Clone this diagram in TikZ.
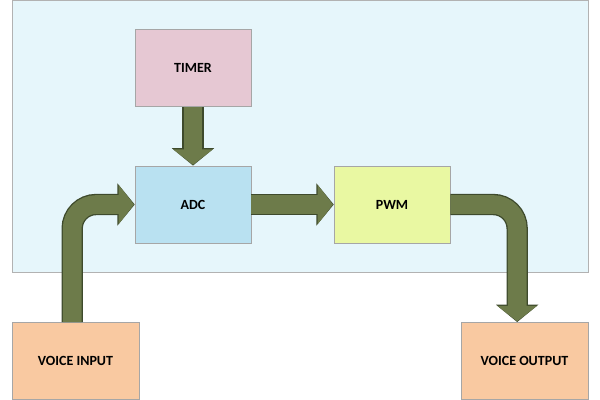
\documentclass[tikz,border=0pt]{standalone}
\usepackage{fontspec}
\setmainfont{Carlito}
\usetikzlibrary{arrows.meta, positioning}
\definecolor{panel}{HTML}{E6F6FB}
\definecolor{timerc}{HTML}{E6C8D3}
\definecolor{adcc}{HTML}{B9E1F1}
\definecolor{pwmc}{HTML}{E9F8A2}
\definecolor{voicec}{HTML}{F9C9A1}
\definecolor{flow}{HTML}{6D7B4A}
\definecolor{flowedge}{HTML}{3E4A2C}
\tikzset{
	block/.style={draw=gray!70, minimum width=87pt, minimum height=58pt, inner sep=0pt,
		font=\fontsize{10.5}{12}\selectfont\bfseries},
	edge/.style={line width=16pt, draw=flowedge, rounded corners=18pt,
		-{Triangle[length=13pt, width=31pt]}},
	core/.style={line width=14pt, draw=flow, rounded corners=18pt,
		-{Triangle[length=11.5pt, width=29pt]}, shorten >=0.6pt}
}
\begin{document}
\begin{tikzpicture}[x=0.75pt, y=-0.75pt]
		\useasboundingbox (0,0) rectangle (600,400);
		\fill[panel, draw=gray!60] (12,0) rectangle (588,272);
		\node[block, fill=timerc] (timer) at (193,68) {TIMER};
		\node[block, fill=adcc] (adc) at (193,204.5) {ADC};
		\node[block, fill=pwmc] (pwm) at (392,204.5) {PWM};
		\node[block, fill=voicec, minimum width=95pt] (vin) at (75.5,361) {VOICE INPUT};
		\node[block, fill=voicec, minimum width=95pt] (vout) at (524.5,361) {VOICE OUTPUT};
		\foreach \s in {edge, core} {
			\draw[\s] (timer.south) -- (adc.north);
			\draw[\s] (adc.east) -- (pwm.west);
			\draw[\s] ([xshift=-2.5pt]vin.north) |- (adc.west);
			\draw[\s] (pwm.east) -| ([xshift=-5.5pt]vout.north);
		}
	\end{tikzpicture}
\end{document}
